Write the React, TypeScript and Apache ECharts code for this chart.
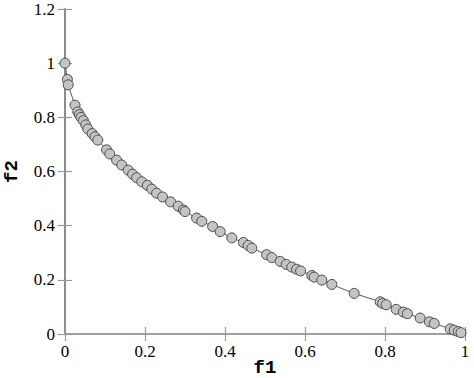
import React, { useEffect, useRef } from "react";
import * as echarts from "echarts";

const f1Values: number[] = [
  0.0, 0.006, 0.008, 0.025, 0.032, 0.036, 0.04, 0.046, 0.052, 0.057, 0.068, 0.075, 0.082,
  0.104, 0.112, 0.129, 0.142, 0.158, 0.169, 0.179, 0.192, 0.206, 0.217, 0.229, 0.244,
  0.264, 0.283, 0.296, 0.3, 0.329, 0.342, 0.369, 0.388, 0.417, 0.446, 0.458, 0.467,
  0.504, 0.517, 0.538, 0.553, 0.567, 0.579, 0.589, 0.617, 0.623, 0.642, 0.667, 0.723,
  0.788, 0.794, 0.803, 0.828, 0.846, 0.856, 0.888, 0.911, 0.923, 0.963, 0.973, 0.983, 0.99,
];
const f2Values: number[] = [
  1.0, 0.94, 0.92, 0.845, 0.82, 0.81, 0.8, 0.788, 0.772, 0.757, 0.74, 0.728, 0.716,
  0.68, 0.665, 0.642, 0.624, 0.605, 0.59, 0.577, 0.562, 0.549, 0.535, 0.52, 0.506,
  0.488, 0.472, 0.458, 0.452, 0.428, 0.416, 0.397, 0.378, 0.355, 0.338, 0.327, 0.317,
  0.293, 0.282, 0.268, 0.257, 0.247, 0.239, 0.233, 0.216, 0.21, 0.199, 0.183, 0.15,
  0.119, 0.113, 0.108, 0.091, 0.081, 0.075, 0.059, 0.045, 0.039, 0.019, 0.014, 0.009, 0.005,
];
const xTicks = { min: 0, max: 1, interval: 0.2 };
const yTicks = { min: 0, max: 1.2, interval: 0.2 };

const css = `
#chart-box svg text { font-family: "Liberation Serif", "Times New Roman", serif !important; }
#chart-box svg text[style*="bold"], #chart-box svg text[font-weight="bold"] { font-family: "Liberation Mono", "Courier New", monospace !important; }
`;

export default function App() {
  const ref = useRef<HTMLDivElement>(null);
  useEffect(() => {
    if (!ref.current) return;
    const chart = echarts.init(ref.current, null, { renderer: "svg" });
    const data = f1Values.map((x, i) => [x, f2Values[i]]);
    const axisLine = { show: true, lineStyle: { color: "#999", width: 1.5 } };
    const tick = { show: true, inside: true, length: 7, lineStyle: { color: "#999", width: 1.2 } };
    const label = {
      color: "#000",
      fontFamily: "Liberation Serif",
      fontSize: 17,
    };
    const nameStyle = {
      fontFamily: "Liberation Mono",
      fontWeight: "bold" as const,
      fontSize: 19,
      color: "#000",
    };
    chart.setOption({
      animation: false,
      backgroundColor: "#fff",
      grid: { left: 65, right: 9, top: 9, bottom: 44, containLabel: false, outerBoundsMode: "none" },
      xAxis: [
        {
          type: "value",
          ...xTicks,
          position: "bottom",
          axisLine,
          axisTick: tick,
          axisLabel: { ...label, margin: 9 },
          splitLine: { show: false },
          name: "f1",
          nameLocation: "middle",
          nameGap: 24,
          nameMoveOverlap: false,
          nameTextStyle: nameStyle,
        },
        {
          type: "value",
          ...xTicks,
          position: "top",
          axisLine,
          axisTick: tick,
          axisLabel: { show: false },
          splitLine: { show: false },
        },
      ],
      yAxis: [
        {
          type: "value",
          ...yTicks,
          position: "left",
          axisLine,
          axisTick: tick,
          axisLabel: { ...label, margin: 10 },
          splitLine: { show: false },
          name: "f2",
          nameLocation: "middle",
          nameGap: 44,
          nameMoveOverlap: false,
          nameRotate: 90,
          nameTextStyle: nameStyle,
        },
        {
          type: "value",
          ...yTicks,
          position: "right",
          axisLine: { show: true, lineStyle: { color: "#888", width: 1.8 } },
          axisTick: tick,
          axisLabel: { show: false },
          splitLine: { show: false },
        },
      ],
      series: [
        {
          type: "line",
          data,
          symbol: "circle",
          symbolSize: 10,
          showSymbol: true,
          smooth: 0.2,
          lineStyle: { color: "#555", width: 1 },
          itemStyle: { color: "#c4c4c4", borderColor: "#4a4a4a", borderWidth: 1 },
          emphasis: { disabled: true },
        },
      ],
    });
    return () => chart.dispose();
  }, []);
  return (
    <>
      <style>{css}</style>
      <div id="chart-box" ref={ref} style={{ width: 474, height: 378, position: "absolute", left: 0, top: 0 }} />
    </>
  );
}
